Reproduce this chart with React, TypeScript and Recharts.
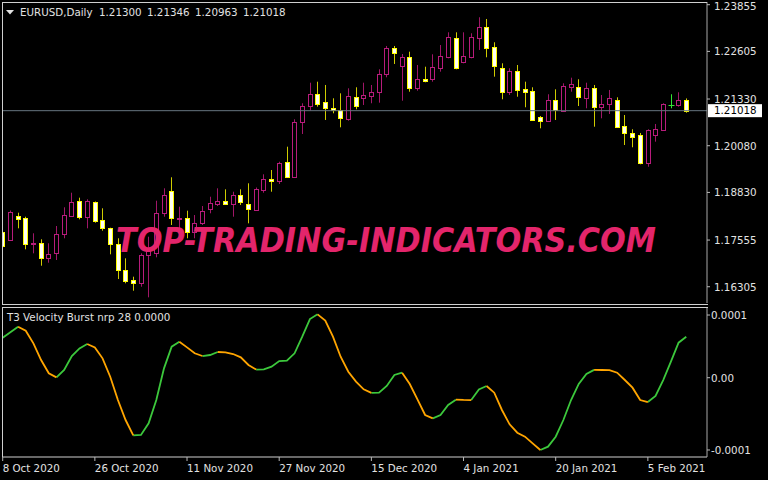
import React from "react";
import {
  Bar,
  ComposedChart,
  Line,
  ReferenceLine,
  XAxis,
  YAxis,
} from "recharts";

// EURUSD daily candles, 8 Oct 2020 .. 12 Feb 2021
const opens = [
  1.1777, 1.17556, 1.18199, 1.18145, 1.17441, 1.17468, 1.17082, 1.172, 1.17709, 1.18207,
  1.18608, 1.1818, 1.18565, 1.18092, 1.17877, 1.17441, 1.16753, 1.16485, 1.16413, 1.17155,
  1.17216, 1.18271, 1.18876, 1.18137, 1.18137, 1.17778, 1.18019, 1.18378, 1.1852, 1.186,
  1.1852, 1.18761, 1.18512, 1.18359, 1.18895, 1.19181, 1.19144, 1.19636, 1.19251, 1.20707,
  1.21143, 1.21465, 1.21242, 1.21098, 1.21036, 1.20795, 1.21376, 1.21349, 1.21419, 1.21526,
  1.22, 1.22688, 1.22222, 1.22463, 1.21617, 1.21866, 1.21866, 1.22169, 1.22447, 1.22972,
  1.22313, 1.22463, 1.22956, 1.2325, 1.22715, 1.22153, 1.2151, 1.22088, 1.2159, 1.21545,
  1.20857, 1.2075, 1.21304, 1.21018, 1.21644, 1.21644, 1.21366, 1.21617, 1.21109, 1.21189,
  1.21304, 1.20608, 1.20429, 1.20367, 1.19625, 1.20367, 1.20501, 1.2117, 1.2117, 1.213,
];
const highs = [
  1.17851, 1.18346, 1.18287, 1.1818, 1.17736, 1.17575, 1.17468, 1.17931, 1.18432, 1.18822,
  1.18689, 1.18646, 1.18587, 1.18405, 1.17885, 1.17602, 1.17066, 1.16574, 1.172, 1.17645,
  1.18608, 1.1894, 1.19235, 1.18448, 1.18341, 1.18225, 1.18466, 1.18715, 1.1894, 1.18913,
  1.18849, 1.18913, 1.19074, 1.18962, 1.19315, 1.1943, 1.19652, 1.20054, 1.20787, 1.21216,
  1.21767, 1.21794, 1.21706, 1.21349, 1.21483, 1.21617, 1.21644, 1.21767, 1.21706, 1.22126,
  1.2275, 1.2275, 1.22535, 1.22597, 1.22241, 1.22195, 1.22527, 1.22776, 1.23116, 1.23116,
  1.23116, 1.2309, 1.23518, 1.23472, 1.22849, 1.22286, 1.22153, 1.22241, 1.21794, 1.21644,
  1.20876, 1.21457, 1.2159, 1.21751, 1.21901, 1.21858, 1.21767, 1.21706, 1.21438, 1.21572,
  1.21376, 1.20902, 1.2052, 1.20421, 1.2052, 1.20662, 1.21216, 1.21457, 1.2151, 1.21346,
];
const lows = [
  1.17315, 1.17529, 1.17869, 1.17307, 1.172, 1.16868, 1.16949, 1.17021, 1.17602, 1.1818,
  1.1811, 1.17869, 1.18019, 1.17805, 1.17173, 1.16512, 1.16397, 1.16199, 1.16306, 1.16022,
  1.17093, 1.1818, 1.17958, 1.17824, 1.17602, 1.17602, 1.17958, 1.18271, 1.18466, 1.18493,
  1.1818, 1.18493, 1.18003, 1.18333, 1.18822, 1.18849, 1.19055, 1.19224, 1.19224, 1.20394,
  1.21018, 1.21125, 1.20769, 1.20948, 1.20573, 1.2075, 1.21055, 1.2117, 1.21216, 1.21232,
  1.21912, 1.22268, 1.21285, 1.21526, 1.21553, 1.21778, 1.21794, 1.22062, 1.2242, 1.22126,
  1.22286, 1.2242, 1.22643, 1.22447, 1.21928, 1.21323, 1.21438, 1.21392, 1.21109, 1.2075,
  1.20546, 1.20734, 1.20769, 1.2099, 1.21526, 1.21143, 1.21082, 1.20589, 1.20814, 1.20929,
  1.20573, 1.20099, 1.20038, 1.19583, 1.19518, 1.20188, 1.20482, 1.21082, 1.21125, 1.20963,
];
const closes = [
  1.17396, 1.18314, 1.18126, 1.17441, 1.17468, 1.17082, 1.17173, 1.17709, 1.18217, 1.18581,
  1.1818, 1.18608, 1.18073, 1.17869, 1.17441, 1.16753, 1.16467, 1.16413, 1.17155, 1.17262,
  1.18271, 1.18761, 1.18137, 1.1814, 1.17778, 1.18019, 1.18341, 1.18539, 1.18608, 1.1852,
  1.18761, 1.18581, 1.18386, 1.18921, 1.19181, 1.19144, 1.19609, 1.19251, 1.20707, 1.21151,
  1.21465, 1.21197, 1.21082, 1.21036, 1.20814, 1.21411, 1.21143, 1.21438, 1.21518, 1.22,
  1.22688, 1.22554, 1.22447, 1.21617, 1.21866, 1.21813, 1.22179, 1.22482, 1.22982, 1.22153,
  1.22482, 1.22982, 1.2325, 1.22704, 1.22222, 1.2151, 1.22072, 1.21572, 1.21526, 1.20769,
  1.2075, 1.21304, 1.21036, 1.21679, 1.21732, 1.21392, 1.21617, 1.21109, 1.21197, 1.21349,
  1.20589, 1.20429, 1.20322, 1.19625, 1.205, 1.2052, 1.21189, 1.2117, 1.21304, 1.21018,
];

// T3 Velocity Burst values, in units of 0.00001
const t3Values = [
  6.38, 7.24, 8.14, 7.5, 5.48, 2.82, 0.7, 0.06, 1.23, 3.46,
  4.68, 5.37, 4.84, 3.09, 0.16, -3.56, -6.75, -9.2, -9.14, -7.28,
  -3.56, 1.49, 4.95, 5.75, 4.84, 3.89, 3.46, 3.62, 4.1, 4.05,
  3.78, 3.25, 2.03, 1.3, 1.33, 1.76, 2.66, 2.72, 3.89, 6.54,
  9.36, 10.11, 9.1, 6.54, 3.35, 0.96, -0.63, -1.86, -2.42, -2.39,
  -1.32, 0.43, 0.8, -1.0, -3.45, -5.95, -6.48, -5.95, -4.35, -3.5,
  -3.55, -3.57, -1.86, -1.32, -2.39, -5.15, -7.44, -8.77, -9.41, -10.47,
  -11.53, -11.0, -9.41, -6.75, -3.56, -1.0, 0.59, 1.25, 1.23, 1.2,
  0.8, -0.37, -1.59, -3.56, -3.88, -2.92, -0.37, 2.56, 5.59, 6.54,
];

const dateTicks = [0, 12, 24, 36, 48, 60, 72, 84];
const dateLabels = [
  "8 Oct 2020",
  "26 Oct 2020",
  "11 Nov 2020",
  "27 Nov 2020",
  "15 Dec 2020",
  "4 Jan 2021",
  "20 Jan 2021",
  "5 Feb 2021",
];
const priceTicks = [1.23855, 1.22605, 1.2133, 1.2008, 1.1883, 1.17555, 1.16305];
const t3Ticks = [10, 0, -11.53];
const t3TickLabels = ["0.0001", "0.00", "-0.0001"];

const FONT = "'DejaVu Sans', Verdana, sans-serif";
const TEXT = "#E2E2E2";
const BULL = "#B81C7C";
const BULL_WICK = "#A01668";
const BEAR = "#FFFF00";
const BEAR_WICK = "#CFCC00";
const DOJI = "#32E632";
const X_DOMAIN: [number, number] = [-0.091, 91.7];

const candles = opens.map((open, i) => ({
  i,
  open,
  high: highs[i],
  low: lows[i],
  close: closes[i],
  range: [lows[i], highs[i]],
}));

// split the T3 line into rising / falling runs so each gets its own colour
type T3Row = { i: number; [key: string]: number | null };
const t3Rows: T3Row[] = t3Values.map((_, i) => ({
  i,
  up0: null,
  up1: null,
  down0: null,
  down1: null,
}));
let upRuns = 0;
let downRuns = 0;
for (let s = 0; s < t3Values.length - 1; ) {
  const rising = t3Values[s + 1] > t3Values[s];
  let e = s + 1;
  while (e < t3Values.length - 1 && t3Values[e + 1] > t3Values[e] === rising) e++;
  const key = rising ? `up${upRuns++ % 2}` : `down${downRuns++ % 2}`;
  for (let k = s; k <= e; k++) t3Rows[k][key] = t3Values[k];
  s = e;
}

const CandleShape = (props: any) => {
  const { x, y, width, height, payload } = props;
  if (x == null || y == null || !payload) return null;
  const { open, high, low, close } = payload;
  const top = Math.min(y, y + height);
  const h = Math.abs(height);
  const k = high === low ? 0 : h / (high - low);
  const py = (p: number) => top + (high - p) * k;
  const cx = Math.round(x + width / 2) + 0.5;
  const bodyTop = Math.round(py(Math.max(open, close))) + 0.5;
  const bodyBottom = Math.max(bodyTop + 1, Math.round(py(Math.min(open, close))) + 0.5);
  const yHigh = py(high);
  const yLow = py(low);

  if (open === close) {
    return (
      <g>
        <line x1={cx} x2={cx} y1={yHigh} y2={yLow} stroke={DOJI} />
        <line x1={cx - 3} x2={cx + 3} y1={bodyTop} y2={bodyTop} stroke={DOJI} />
      </g>
    );
  }
  const bull = close > open;
  const wick = bull ? BULL_WICK : BEAR_WICK;
  return (
    <g>
      <line x1={cx} x2={cx} y1={yHigh} y2={bodyTop} stroke={wick} />
      <line x1={cx} x2={cx} y1={bodyBottom} y2={yLow} stroke={wick} />
      <rect
        x={cx - 2}
        y={bodyTop}
        width={4}
        height={bodyBottom - bodyTop}
        fill={bull ? "#000000" : "#FFFFF4"}
        stroke={bull ? BULL : BEAR}
        strokeWidth={1}
      />
    </g>
  );
};

const PriceTick = (props: any) => {
  const { x, y, payload } = props;
  // keep the topmost label inside the window
  const baseline = Math.max(y + 3.8, 10);
  return (
    <g>
      <line x1={x} x2={x + 3} y1={y} y2={y} stroke="#B8B8B8" />
      <text x={x + 7} y={baseline} fill={TEXT} fontSize={10.3} fontFamily={FONT}>
        {Number(payload.value).toFixed(5)}
      </text>
    </g>
  );
};

const T3Tick = (props: any) => {
  const { x, y, payload } = props;
  const idx = t3Ticks.indexOf(payload.value);
  return (
    <g>
      <line x1={x} x2={x + 3} y1={y} y2={y} stroke="#B8B8B8" />
      <text x={x + 4} y={y + 3.8} fill={TEXT} fontSize={10.3} fontFamily={FONT}>
        {idx >= 0 ? t3TickLabels[idx] : ""}
      </text>
    </g>
  );
};

const DateTick = (props: any) => {
  const { x, y, payload } = props;
  const idx = dateTicks.indexOf(payload.value);
  return (
    <g>
      <line x1={x} x2={x} y1={y} y2={y + 4} stroke="#B8B8B8" />
      <text x={x} y={y + 14.5} fill={TEXT} fontSize={10.3} fontFamily={FONT}>
        {idx >= 0 ? dateLabels[idx] : ""}
      </text>
    </g>
  );
};

const PriceTag = (props: any) => {
  const vb = props.viewBox;
  if (!vb) return null;
  const x = vb.x + vb.width + 1;
  const y = vb.y;
  return (
    <g>
      <rect x={x} y={y - 6.5} width={54} height={13} fill="#FFFFFF" />
      <text x={x + 6} y={y + 3.8} fill="#000000" fontSize={10.3} fontFamily={FONT}>
        {closes[closes.length - 1].toFixed(5)}
      </text>
    </g>
  );
};

export default function App() {
  const frame = "#CFCFCF";
  return (
    <div
      style={{
        position: "absolute",
        left: 0,
        top: 0,
        width: 768,
        height: 480,
        background: "#000000",
        overflow: "hidden",
      }}
    >
      <div style={{ position: "absolute", left: 0, top: 0 }}>
        <ComposedChart
          width={768}
          height={306}
          data={candles}
          margin={{ top: 2, right: 0, left: 2, bottom: 3 }}
        >
          <XAxis
            dataKey="i"
            type="number"
            domain={X_DOMAIN}
            allowDataOverflow
            hide
          />
          <YAxis
            orientation="right"
            domain={[1.1587, 1.23927]}
            ticks={priceTicks}
            allowDataOverflow
            width={61}
            axisLine={{ stroke: "#A8A8A8" }}
            tickLine={false}
            tickSize={0}
            tickMargin={0}
            tick={<PriceTick />}
            interval={0}
          />
          <ReferenceLine
            y={closes[closes.length - 1]}
            stroke="#66757F"
            strokeWidth={1}
            label={<PriceTag />}
          />
          <Bar
            dataKey="range"
            barSize={5}
            shape={<CandleShape />}
            isAnimationActive={false}
          />
        </ComposedChart>
      </div>

      <div style={{ position: "absolute", left: 0, top: 306 }}>
        <ComposedChart
          width={768}
          height={174}
          data={t3Rows}
          margin={{ top: 1, right: 0, left: 2, bottom: 0 }}
        >
          <XAxis
            dataKey="i"
            type="number"
            domain={X_DOMAIN}
            allowDataOverflow
            ticks={dateTicks}
            interval={0}
            height={23}
            axisLine={{ stroke: frame }}
            tickLine={false}
            tickSize={0}
            tickMargin={0}
            tick={<DateTick />}
          />
          <YAxis
            orientation="right"
            domain={[-12.65, 11.28]}
            ticks={t3Ticks}
            allowDataOverflow
            width={61}
            interval={0}
            axisLine={{ stroke: "#A8A8A8" }}
            tickLine={false}
            tickSize={0}
            tickMargin={0}
            tick={<T3Tick />}
          />
          {["up0", "up1", "down0", "down1"].map((key) => (
            <Line
              key={key}
              dataKey={key}
              type="linear"
              stroke={key.startsWith("up") ? "#3CC83C" : "#FFA500"}
              strokeWidth={1.8}
              dot={false}
              activeDot={false}
              connectNulls={false}
              isAnimationActive={false}
            />
          ))}
        </ComposedChart>
      </div>

      <svg
        width={768}
        height={480}
        style={{ position: "absolute", left: 0, top: 0, pointerEvents: "none" }}
      >
        {/* panel frames */}
        <line x1={2} x2={707} y1={2.5} y2={2.5} stroke={frame} />
        <line x1={2.5} x2={2.5} y1={2} y2={304} stroke={frame} />
        <line x1={2} x2={708} y1={304.5} y2={304.5} stroke={frame} />
        <line x1={2} x2={708} y1={307.5} y2={307.5} stroke={frame} />
        <line x1={2.5} x2={2.5} y1={307} y2={457} stroke={frame} />

        {/* chart header */}
        <polygon points="6,10 14,10 10,14.5" fill={TEXT} />
        <text x={20} y={16} fill={TEXT} fontSize={10.3} fontFamily={FONT}>
          EURUSD,Daily
        </text>
        {[opens[89], highs[89], lows[89], closes[89]].map((v, k) => (
          <text
            key={k}
            x={99 + k * 48}
            y={16}
            fill={TEXT}
            fontSize={10.3}
            fontFamily={FONT}
          >
            {v.toFixed(5)}
          </text>
        ))}

        <text x={7} y={320.5} fill={TEXT} fontSize={10.3} fontFamily={FONT}>
          T3 Velocity Burst nrp 28 0.0000
        </text>

        {/* watermark, squeezed horizontally to span x 116..656 */}
        <g transform="translate(116,252) scale(0.878,1)">
          <text
            x={0}
            y={0}
            fill="#E3256B"
            fontSize={34}
            fontWeight="bold"
            fontStyle="italic"
            fontFamily={FONT}
            textLength={615}
            lengthAdjust="spacingAndGlyphs"
          >
            TOP-TRADING-INDICATORS.COM
          </text>
        </g>
      </svg>
    </div>
  );
}
